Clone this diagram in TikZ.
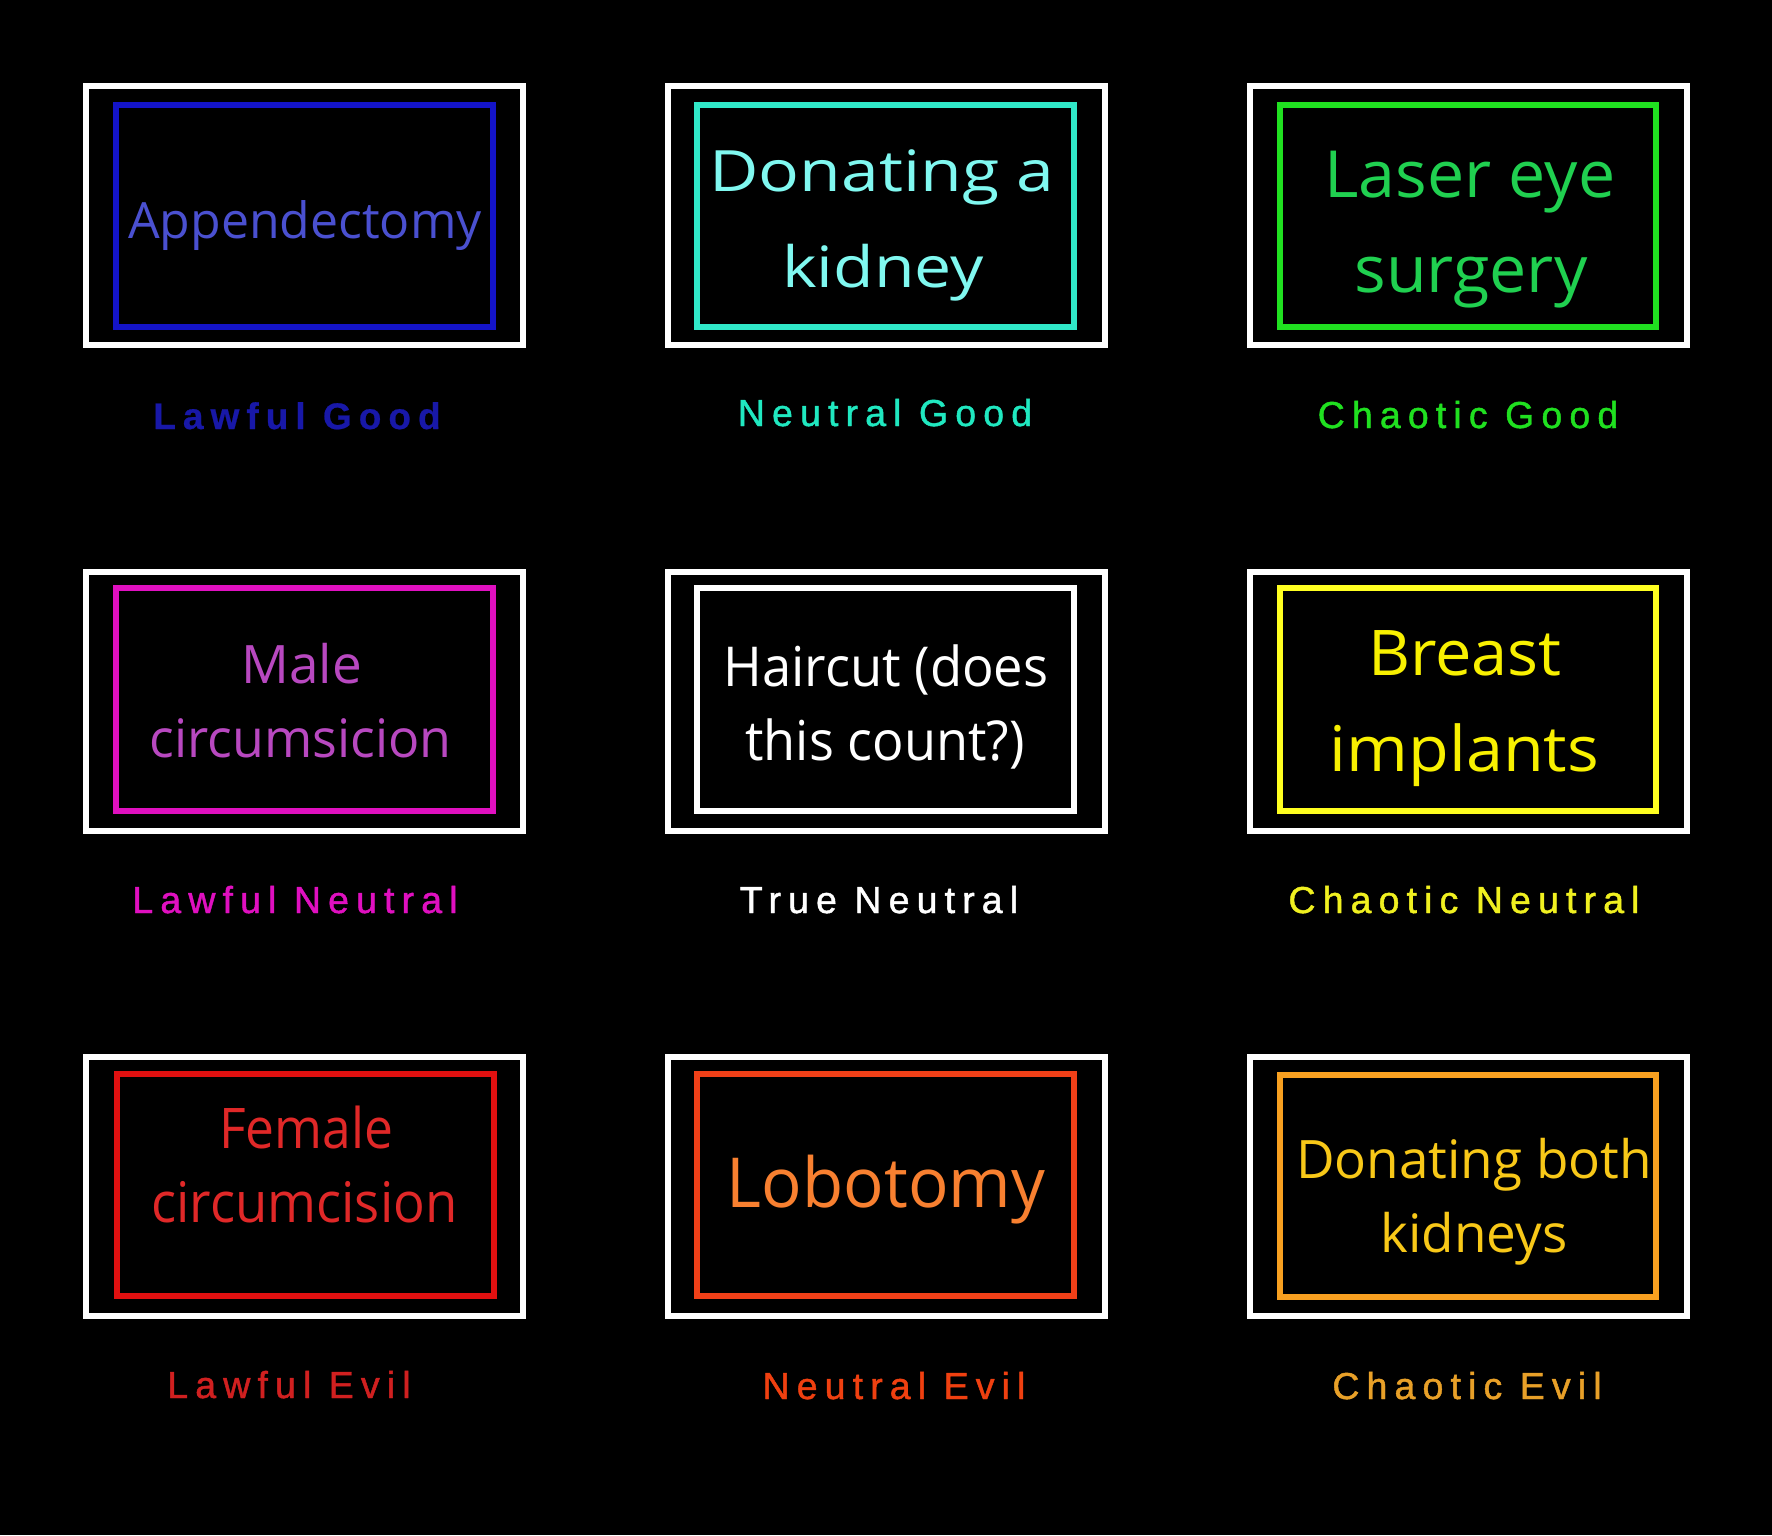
\documentclass[tikz,border=0pt]{standalone}
\usepackage{fontspec}
\usepackage{graphicx}
\setmainfont{Open Sans}
\newfontfamily\lblfont[LetterSpace=19,FakeBold=1.2]{Liberation Sans}
\newfontfamily\lblboldfont[LetterSpace=19,FakeBold=0.6]{Liberation Sans Bold}
\definecolor{lgbox}{HTML}{1414C8}\definecolor{lgtxt}{HTML}{4A50D0}\definecolor{lglbl}{HTML}{1818A8}
\definecolor{ngbox}{HTML}{30E8C8}\definecolor{ngtxt}{HTML}{80F8F0}\definecolor{nglbl}{HTML}{20E8C0}
\definecolor{cgbox}{HTML}{20E020}\definecolor{cgtxt}{HTML}{20D050}\definecolor{cglbl}{HTML}{20E020}
\definecolor{lnbox}{HTML}{E010C0}\definecolor{lntxt}{HTML}{B848C0}\definecolor{lnlbl}{HTML}{E010C0}
\definecolor{cnbox}{HTML}{FFFF20}\definecolor{cntxt}{HTML}{F8F000}\definecolor{cnlbl}{HTML}{F0F020}
\definecolor{lebox}{HTML}{E01010}\definecolor{letxt}{HTML}{E02828}\definecolor{lelbl}{HTML}{D02020}
\definecolor{nebox}{HTML}{F04018}\definecolor{netxt}{HTML}{F88030}\definecolor{nelbl}{HTML}{F04010}
\definecolor{cebox}{HTML}{F8A020}\definecolor{cetxt}{HTML}{F8C818}\definecolor{celbl}{HTML}{E8A028}
\begin{document}
\begin{tikzpicture}[x=1pt,y=-1pt,
  outerbox/.style={draw=white,line width=6pt,minimum width=437pt,minimum height=259pt,inner sep=0pt,fill=black},
  innerbox/.style={line width=6pt,minimum width=377pt,minimum height=222pt,inner sep=0pt},
  txt/.style={anchor=base,inner sep=0pt,font={\fontsize{#1}{#1}\selectfont}},
  lbl/.style={anchor=base,inner sep=0pt,font={\fontsize{37.5}{37.5}\lblfont}}]
\useasboundingbox[fill=black] (0,0) rectangle (1772,1535);

% row 1
\node[outerbox] (o11) at (304.5,215.5) {};
\node[outerbox] (o12) at (886.5,215.5) {};
\node[outerbox] (o13) at (1468.5,215.5) {};
\node[innerbox,draw=lgbox] (i11) at (304.5,216) {};
\node[innerbox,draw=ngbox] (i12) at (885.5,216) {};
\node[innerbox,draw=cgbox,minimum width=376pt] (i13) at (1468,216) {};
\node[txt=50,text=lgtxt] (t11) at (305,238) {Appendectomy};
\node[txt=57,text=ngtxt] (t12a) at (882,191) {\scalebox{1.19}[1]{Donating a}};
\node[txt=57,text=ngtxt] (t12b) at (883,287) {\scalebox{1.16}[1]{kidney}};
\node[txt=65,text=cgtxt] (t13a) at (1470,197) {\scalebox{1.02}[1]{Laser eye}};
\node[txt=65,text=cgtxt] (t13b) at (1471,292) {\scalebox{1.02}[1]{surgery}};
\node[lbl,text=lglbl,font={\fontsize{37}{37}\lblboldfont}] (l11) at (297,429) {Lawful Good};
\node[lbl,text=nglbl] (l12) at (885,426) {Neutral Good};
\node[lbl,text=cglbl] (l13) at (1468,428) {Chaotic Good};

% row 2
\node[outerbox] (o21) at (304.5,701.75) {};
\node[outerbox] (o22) at (886.5,701.75) {};
\node[outerbox] (o23) at (1468.5,701.75) {};
\node[innerbox,draw=lnbox,minimum height=223pt] (i21) at (304.5,699.5) {};
\node[innerbox,draw=white,minimum height=223pt] (i22) at (885.5,699.5) {};
\node[innerbox,draw=cnbox,minimum width=376pt,minimum height=223pt] (i23) at (1468,699.5) {};
\node[txt=53,text=lntxt] (t21a) at (301.5,683) {Male};
\node[txt=53,text=lntxt] (t21b) at (300.5,757) {\scalebox{0.98}[1]{circumsicion}};
\node[txt=55,text=white] (t22a) at (886,686) {\scalebox{0.955}[1]{Haircut (does}};
\node[txt=55,text=white] (t22b) at (885,760) {\scalebox{0.95}[1]{this count?)}};
\node[txt=63,text=cntxt] (t23a) at (1465,675) {\scalebox{1.03}[1]{Breast}};
\node[txt=63,text=cntxt] (t23b) at (1464.5,771) {\scalebox{1.055}[1]{implants}};
\node[lbl,text=lnlbl] (l21) at (295,913) {Lawful Neutral};
\node[lbl,text=white] (l22) at (879,913) {True Neutral};
\node[lbl,text=cnlbl] (l23) at (1464,913) {Chaotic Neutral};

% row 3
\node[outerbox] (o31) at (304.5,1186.5) {};
\node[outerbox] (o32) at (886.5,1186.5) {};
\node[outerbox] (o33) at (1468.5,1186.5) {};
\node[innerbox,draw=lebox] (i31) at (305.5,1185) {};
\node[innerbox,draw=nebox] (i32) at (885.5,1185) {};
\node[innerbox,draw=cebox,minimum width=376pt] (i33) at (1468,1186) {};
\node[txt=56,text=letxt] (t31a) at (306,1148) {\scalebox{0.92}[1]{Female}};
\node[txt=56,text=letxt] (t31b) at (304.5,1222) {\scalebox{0.94}[1]{circumcision}};
\node[txt=69,text=netxt] (t32) at (886,1207) {\scalebox{0.975}[1]{Lobotomy}};
\node[txt=53,text=cetxt] (t33a) at (1474,1178) {Donating both};
\node[txt=53,text=cetxt] (t33b) at (1474,1252) {kidneys};
\node[lbl,text=lelbl] (l31) at (289,1398) {Lawful Evil};
\node[lbl,text=nelbl] (l32) at (894,1399) {Neutral Evil};
\node[lbl,text=celbl] (l33) at (1467,1399) {Chaotic Evil};
\end{tikzpicture}
\end{document}
